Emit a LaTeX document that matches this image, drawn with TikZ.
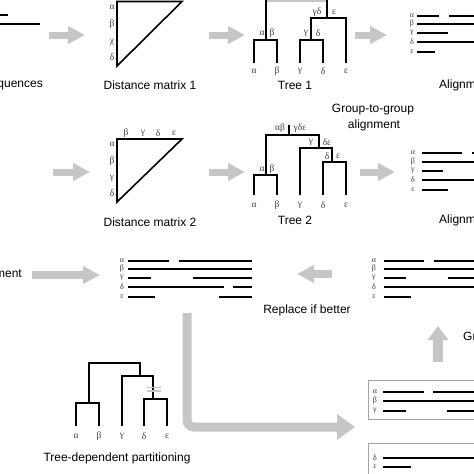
\documentclass[tikz,border=0pt]{standalone}
\usepackage{fontspec}
\setmainfont{Liberation Sans}
\newfontfamily\grk{Liberation Serif}
\usetikzlibrary{arrows.meta}
\definecolor{gr}{RGB}{198,198,198}
\definecolor{bx}{RGB}{165,165,165}
\tikzset{
  lbl/.style={font=\fontsize{12}{14}\selectfont, inner sep=0pt},
  gk/.style={font=\grk\fontsize{9.5}{10}\selectfont, inner sep=0pt, text=black!75},
  gks/.style={font=\grk\fontsize{8}{8}\selectfont, inner sep=0pt, text=black!75},
  seqline/.style={line width=2pt, line cap=butt},
  thinseq/.style={line width=1.2pt},
  tri/.style={line width=1.6pt, line join=miter},
  treeline/.style={line width=2pt, line cap=butt, line join=miter},
  garrow/.style={draw=gr, line width=7pt, -{Triangle[length=17pt,width=17pt]}},
  bigarrow/.style={draw=gr, line width=9pt, rounded corners=7pt, -{Triangle[length=18pt,width=25pt]}},
  boxframe/.style={draw=bx, line width=0.6pt}
}
\begin{document}
\begin{tikzpicture}[x=1pt,y=-1pt]
\useasboundingbox (0,0) rectangle (474,474);
\clip (0,0) rectangle (474,474);

% ---------- Row 1 ----------
\draw[thinseq] (0,15) -- (8,15);
\draw[thinseq] (0,24) -- (40,24);
\node[lbl, anchor=east] (seqs) at (43,85) {Sequences};

\coordinate (a1s) at (49,35); \coordinate (a1e) at (85,35);
\draw[garrow] (a1s) -- (a1e);

\draw[tri] (117,1.5) -- (182,1.5) -- (117,66) -- cycle;
\node[gk] (dm1a) at (112,7) {α};
\node[gk] (dm1b) at (112,24) {β};
\node[gk] (dm1c) at (112,42) {χ};
\node[gk] (dm1d) at (112,57) {δ};
\node[lbl] (dm1) at (150,85) {Distance matrix 1};

\coordinate (a2s) at (209,35); \coordinate (a2e) at (245,35);
\draw[garrow] (a2s) -- (a2e);

% Tree 1
\draw[gr, line width=2pt] (266,0.6) -- (327,0.6);
\draw[treeline] (266,0) -- (266,40);
\draw[treeline] (254,63) -- (254,40) -- (277,40) -- (277,63);
\draw[treeline] (327,0) -- (327,18);
\draw[treeline] (311,40) -- (311,18) -- (346,18) -- (346,63);
\draw[treeline] (300,63) -- (300,40) -- (323,40) -- (323,63);
\node[gk] (t1ia) at (262,33) {α};
\node[gk] (t1ib) at (272,33) {β};
\node[gk] (t1gd) at (317,12) {γδ};
\node[gk] (t1ie) at (334,12) {ε};
\node[gk] (t1ig) at (306,33) {γ};
\node[gk] (t1id) at (318,33) {δ};
\node[gk] (t1la) at (254,71) {α};
\node[gk] (t1lb) at (277,71) {β};
\node[gk] (t1lg) at (300,71) {γ};
\node[gk] (t1ld) at (323,71) {δ};
\node[gk] (t1le) at (346,71) {ε};
\node[lbl] (tree1) at (295,85) {Tree 1};

\coordinate (a3s) at (355,35); \coordinate (a3e) at (387,35);
\draw[garrow] (a3s) -- (a3e);

% Alignment 1
\node[gks] (al1a) at (412,16) {α};
\node[gks] (al1b) at (412,24) {β};
\node[gks] (al1g) at (412,33) {γ};
\node[gks] (al1d) at (412,42) {δ};
\node[gks] (al1e) at (412,52) {ε};
\draw[seqline] (417,16) -- (439,16) (449,16) -- (474,16);
\draw[seqline] (417,24) -- (474,24);
\draw[seqline] (417,33) -- (448,33);
\draw[seqline] (417,42) -- (474,42);
\draw[seqline] (417,52) -- (435,52);
\node[lbl, anchor=west] (al1) at (439,85) {Alignment 1};

\node[lbl] (g2g1) at (373,110) {Group-to-group};
\node[lbl] (g2g2) at (374,125) {alignment};

% ---------- Row 2 ----------
\coordinate (b1s) at (53,172); \coordinate (b1e) at (90,172);
\draw[garrow] (b1s) -- (b1e);

\draw[tri] (117,139) -- (182,139) -- (117,202) -- cycle;
\node[gk] (dm2tb) at (126,133) {β};
\node[gk] (dm2tg) at (143,133) {γ};
\node[gk] (dm2td) at (158,133) {δ};
\node[gk] (dm2te) at (174,133) {ε};
\node[gk] (dm2a) at (112,144) {α};
\node[gk] (dm2b) at (112,161) {β};
\node[gk] (dm2g) at (112,178) {γ};
\node[gk] (dm2d) at (112,193) {δ};
\node[lbl] (dm2) at (150,222) {Distance matrix 2};

\coordinate (b2s) at (209,172); \coordinate (b2e) at (245,172);
\draw[garrow] (b2s) -- (b2e);

% Tree 2
\draw[treeline] (289,125) -- (289,135);
\draw[treeline] (266,175) -- (266,135) -- (319,135) -- (319,148);
\draw[treeline] (254,195) -- (254,175) -- (277,175) -- (277,195);
\draw[treeline] (300,195) -- (300,148) -- (332,148) -- (332,162);
\draw[treeline] (323,195) -- (323,162) -- (346,162) -- (346,195);
\node[gk] (t2ab) at (280,128) {αβ};
\node[gk] (t2gde) at (300,128) {γδε};
\node[gk] (t2ia) at (262,169) {α};
\node[gk] (t2ib) at (272,169) {β};
\node[gk] (t2ig) at (311,142) {γ};
\node[gk] (t2ide) at (327,142) {δε};
\node[gk] (t2id) at (327,156) {δ};
\node[gk] (t2ie) at (338,156) {ε};
\node[gk] (t2la) at (254,205) {α};
\node[gk] (t2lb) at (277,205) {β};
\node[gk] (t2lg) at (300,205) {γ};
\node[gk] (t2ld) at (323,205) {δ};
\node[gk] (t2le) at (346,205) {ε};
\node[lbl] (tree2) at (295,220) {Tree 2};

\coordinate (b3s) at (360,172); \coordinate (b3e) at (395,172);
\draw[garrow] (b3s) -- (b3e);

% Alignment 2
\node[gks] (al2a) at (413,153) {α};
\node[gks] (al2b) at (413,162) {β};
\node[gks] (al2g) at (413,171) {γ};
\node[gks] (al2d) at (413,180) {δ};
\node[gks] (al2e) at (413,190) {ε};
\draw[seqline] (422,153) -- (462,153) (472,153) -- (476,153);
\draw[seqline] (422,162) -- (474,162);
\draw[seqline] (422,171) -- (443,171);
\draw[seqline] (422,180) -- (474,180);
\draw[seqline] (422,190) -- (448,190);
\node[lbl, anchor=west] (al2) at (439,220) {Alignment 2};

% ---------- Row 3 ----------
\node[lbl, anchor=east] (fin) at (22,274) {alignment};
\coordinate (c1s) at (32,275); \coordinate (c1e) at (100,275);
\draw[garrow, line width=8pt] (c1s) -- (c1e);

% centre alignment
\node[gks] (al3a) at (122,261) {α};
\node[gks] (al3b) at (122,269) {β};
\node[gks] (al3g) at (122,278) {γ};
\node[gks] (al3d) at (122,287) {δ};
\node[gks] (al3e) at (122,297) {ε};
\draw[seqline] (128,261) -- (169,261) (179,261) -- (252,261);
\draw[seqline] (128,269) -- (252,269);
\draw[seqline] (128,278) -- (151,278) (193,278) -- (252,278);
\draw[seqline] (128,287) -- (224,287) (233,287) -- (252,287);
\draw[seqline] (128,297) -- (155,297) (219,297) -- (252,297);

\coordinate (c2s) at (332,274); \coordinate (c2e) at (297,274);
\draw[garrow, line width=8pt] (c2s) -- (c2e);
\node[lbl] (repl) at (307,310) {Replace if better};

% right alignment
\node[gks] (al4a) at (374,261) {α};
\node[gks] (al4b) at (374,269) {β};
\node[gks] (al4g) at (374,278) {γ};
\node[gks] (al4d) at (374,287) {δ};
\node[gks] (al4e) at (374,297) {ε};
\draw[seqline] (384,261) -- (424,261) (434,261) -- (474,261);
\draw[seqline] (384,269) -- (474,269);
\draw[seqline] (384,278) -- (406,278) (448,278) -- (474,278);
\draw[seqline] (384,287) -- (474,287);
\draw[seqline] (384,297) -- (411,297);

\node[lbl, anchor=west] (g2g3) at (463,338) {Group-to-group};
\coordinate (c3s) at (438,362); \coordinate (c3e) at (438,326);
\draw[garrow, line width=10pt, -{Triangle[length=14pt,width=20pt]}] (c3s) -- (c3e);

% L-shaped connector
\coordinate (ls) at (187,313); \coordinate (lc) at (187,427); \coordinate (le) at (355,427);
\draw[bigarrow] (ls) -- (lc) -- (le);

% boxes
\draw[boxframe] (368,380) rectangle (480,419);
\draw[boxframe] (368,443) rectangle (480,480);
\node[gks] (bxa) at (375,392) {α};
\node[gks] (bxb) at (375,401) {β};
\node[gks] (bxg) at (375,411) {γ};
\draw[seqline] (383,392) -- (424,392) (433,392) -- (474,392);
\draw[seqline] (383,401) -- (474,401);
\draw[seqline] (383,411) -- (406,411) (447,411) -- (474,411);
\node[gks] (bxd) at (375,458) {δ};
\node[gks] (bxe) at (375,467) {ε};
\draw[seqline] (383,458) -- (474,458);
\draw[seqline] (383,467) -- (411,467);

% bottom tree
\draw[treeline] (89,403) -- (89,363) -- (140,363) -- (140,376);
\draw[treeline] (76,426) -- (76,403) -- (99,403) -- (99,426);
\draw[treeline] (122,426) -- (122,376) -- (153,376) -- (153,399);
\draw[treeline] (144,426) -- (144,399) -- (167,399) -- (167,426);
\draw[gr, line width=1.2pt] (147,387.5) -- (161,387.5) (147,391) -- (161,391);
\node[gk] (t3a) at (76,436) {α};
\node[gk] (t3b) at (99,436) {β};
\node[gk] (t3g) at (122,436) {γ};
\node[gk] (t3d) at (144,436) {δ};
\node[gk] (t3e) at (167,436) {ε};
\node[lbl] (tdp) at (117,458) {Tree-dependent partitioning};
\end{tikzpicture}
\end{document}
